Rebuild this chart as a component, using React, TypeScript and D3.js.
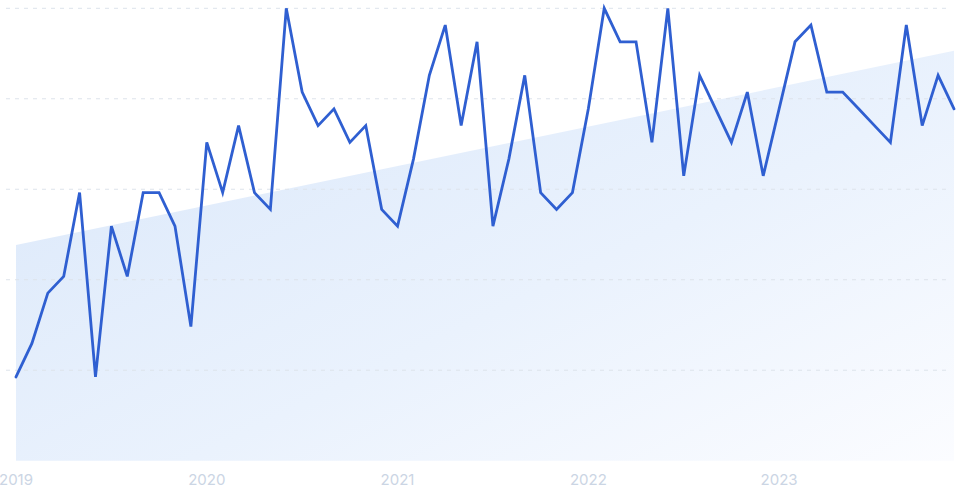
import React from "react";
import * as d3 from "d3";

const years = ["2019", "2020", "2021", "2022", "2023"];
const monthsPerYear = 12;
const values = [
  5, 7, 10, 11, 16, 5, 14, 11, 16, 16, 14, 8,
  19, 16, 20, 16, 15, 27, 22, 20, 21, 19, 20, 15,
  14, 18, 23, 26, 20, 25, 14, 18, 23, 16, 15, 16,
  21, 27, 25, 25, 19, 27, 17, 23, 21, 19, 22, 17,
  21, 25, 26, 22, 22, 21, 20, 19, 26, 20, 23, 21,
];
const yMax = 27;
const gridCount = 5;

const W = 957;
const H = 489;
const M = { left: 16, right: 3, top: 8.3, bottom: 28.3 };

export default function App() {
  const n = values.length;
  const x = d3.scaleLinear().domain([0, n - 1]).range([M.left, W - M.right]);
  const y = d3.scaleLinear().domain([0, yMax]).range([H - M.bottom, M.top]);

  // linear regression trend
  const idx = d3.range(n);
  const mx = d3.mean(idx) as number;
  const my = d3.mean(values) as number;
  const sxy = d3.sum(idx, (i) => (i - mx) * (values[i] - my));
  const sxx = d3.sum(idx, (i) => (i - mx) * (i - mx));
  const slope = sxy / sxx;
  const intercept = my - slope * mx;
  const trend = [0, n - 1].map((i) => ({ i, v: intercept + slope * i }));

  const area = d3
    .area<{ i: number; v: number }>()
    .x((d) => x(d.i))
    .y0(y(0))
    .y1((d) => y(d.v));

  const line = d3
    .line<number>()
    .x((_, i) => x(i))
    .y((d) => y(d));

  const grid = d3.range(1, gridCount + 1).map((k) => (yMax * k) / gridCount);

  return (
    <svg
      width={W}
      height={H}
      style={{ position: "absolute", left: 0, top: 0, display: "block" }}
    >
      <defs>
        <linearGradient id="areaGrad" x1="0" y1="0.1" x2="1" y2="1">
          <stop offset="0%" stopColor="#dbe8fa" />
          <stop offset="55%" stopColor="#eaf2fd" />
          <stop offset="100%" stopColor="#fbfcff" />
        </linearGradient>
      </defs>
      <rect width={W} height={H} fill="#ffffff" />
      <path d={area(trend) as string} fill="url(#areaGrad)" />
      {grid.map((g) => (
        <line
          key={g}
          x1={6}
          x2={950}
          y1={y(g)}
          y2={y(g)}
          stroke="#dde3eb"
          strokeWidth={1}
          strokeDasharray="4 5"
        />
      ))}
      <path
        d={line(values) as string}
        fill="none"
        stroke="#2f5fd1"
        strokeWidth={2.8}
        strokeLinejoin="miter"
        strokeLinecap="round"
      />
      {years.map((yr, k) => (
        <text
          key={yr}
          x={x(k * monthsPerYear)}
          y={485}
          textAnchor="middle"
          fontFamily="Inter, sans-serif"
          fontSize={15}
          fill="#cbd5e4"
        >
          {yr}
        </text>
      ))}
    </svg>
  );
}
